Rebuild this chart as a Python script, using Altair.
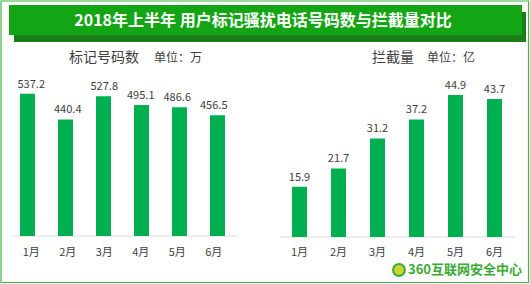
import altair as alt
import pandas as pd

months = ["1月", "2月", "3月", "4月", "5月", "6月"]
marked_numbers = [537.2, 440.4, 527.8, 495.1, 486.6, 456.5]   # 万
blocked_calls = [15.9, 21.7, 31.2, 37.2, 44.9, 43.7]           # 亿

title_text = "2018年上半年 用户标记骚扰电话号码数与拦截量对比"
left_sub = "标记号码数"
left_unit = "单位：万"
right_sub = "拦截量"
right_unit = "单位：亿"
watermark = "360互联网安全中心"

df = pd.DataFrame({"month": months, "calls": marked_numbers, "blocked": blocked_calls})
dummy = pd.DataFrame({"a": [0]})

FONT = "Noto Sans CJK SC"
BAR = "#00b050"
TXT = "#404040"

xl = alt.Scale(domain=months, range=[13, 232], paddingInner=0.605, paddingOuter=0.184)
xr = alt.Scale(domain=months, range=[280, 514], paddingInner=0.615, paddingOuter=0.308)
yl = alt.Scale(domain=[0, 892], range=[236, 0], nice=False, zero=True)
yr = alt.Scale(domain=[0, 75], range=[237, 0], nice=False, zero=True)

base = alt.Chart(df)
deco = alt.Chart(dummy)

border = deco.mark_rect(fill=None, stroke="#3cb83c", strokeWidth=1.2).encode(
    x=alt.value(1), x2=alt.value(528.5), y=alt.value(1), y2=alt.value(282.5))
shadow = deco.mark_rect(fill="#1a7d1a").encode(
    x=alt.value(14), x2=alt.value(526), y=alt.value(12), y2=alt.value(42))
banner = deco.mark_rect(fill="#14a514").encode(
    x=alt.value(9), x2=alt.value(522), y=alt.value(5), y2=alt.value(35))
title = deco.mark_text(font=FONT, fontSize=16, fontWeight="bold", color="white",
                       align="center", baseline="middle").encode(
    x=alt.value(263), y=alt.value(21), text=alt.value(title_text))

lsub = deco.mark_text(font=FONT, fontSize=14, color=TXT, align="right", baseline="middle").encode(
    x=alt.value(139), y=alt.value(58), text=alt.value(left_sub))
lunit = deco.mark_text(font=FONT, fontSize=12, color=TXT, align="left", baseline="middle").encode(
    x=alt.value(154), y=alt.value(58), text=alt.value(left_unit))
rsub = deco.mark_text(font=FONT, fontSize=14, color=TXT, align="right", baseline="middle").encode(
    x=alt.value(414), y=alt.value(58), text=alt.value(right_sub))
runit = deco.mark_text(font=FONT, fontSize=12, color=TXT, align="left", baseline="middle").encode(
    x=alt.value(427), y=alt.value(58), text=alt.value(right_unit))

lrule = deco.mark_rule(color="#d9d9d9", strokeWidth=1).encode(
    x=alt.value(13), x2=alt.value(237), y=alt.value(236))
rrule = deco.mark_rule(color="#d9d9d9", strokeWidth=1).encode(
    x=alt.value(280), x2=alt.value(515), y=alt.value(237))

lbars = base.mark_bar(color=BAR).encode(
    x=alt.X("month:N", scale=xl, axis=None),
    y=alt.Y("calls:Q", scale=yl, axis=None))
lvals = base.mark_text(font=FONT, fontSize=11, color=TXT, baseline="bottom", dy=-4).encode(
    x=alt.X("month:N", scale=xl, axis=None),
    y=alt.Y("calls:Q", scale=yl, axis=None),
    text=alt.Text("calls:Q", format=".1f"))
lmon = base.mark_text(font=FONT, fontSize=11, color=TXT, baseline="middle").encode(
    x=alt.X("month:N", scale=xl, axis=None),
    y=alt.value(253), text="month:N")

rbars = base.mark_bar(color=BAR).encode(
    x=alt.X("month:N", scale=xr, axis=None),
    y=alt.Y("blocked:Q", scale=yr, axis=None))
rvals = base.mark_text(font=FONT, fontSize=11, color=TXT, baseline="bottom", dy=-4).encode(
    x=alt.X("month:N", scale=xr, axis=None),
    y=alt.Y("blocked:Q", scale=yr, axis=None),
    text=alt.Text("blocked:Q", format=".1f"))
rmon = base.mark_text(font=FONT, fontSize=11, color=TXT, baseline="middle").encode(
    x=alt.X("month:N", scale=xr, axis=None),
    y=alt.value(253), text="month:N")

logo = deco.mark_point(filled=True, shape="circle", size=140, color="#c8d830",
                       stroke="#3aaa35", strokeWidth=2, opacity=1).encode(
    x=alt.value(399), y=alt.value(270))
wm = deco.mark_text(font=FONT, fontSize=13, fontWeight="bold", color="#3aaa35",
                    align="left", baseline="middle").encode(
    x=alt.value(408), y=alt.value(270), text=alt.value(watermark))

chart = alt.layer(
    border, shadow, banner, title, lsub, lunit, rsub, runit, lrule, rrule,
    lbars, lvals, lmon, rbars, rvals, rmon, logo, wm
).resolve_scale(x="independent", y="independent").properties(
    width=530, height=284, autosize=alt.AutoSizeParams(type="none"), padding=0,
    background="white"
).configure_view(stroke=None)

chart.save("out.html", embed_options={"renderer": "svg", "actions": False})
